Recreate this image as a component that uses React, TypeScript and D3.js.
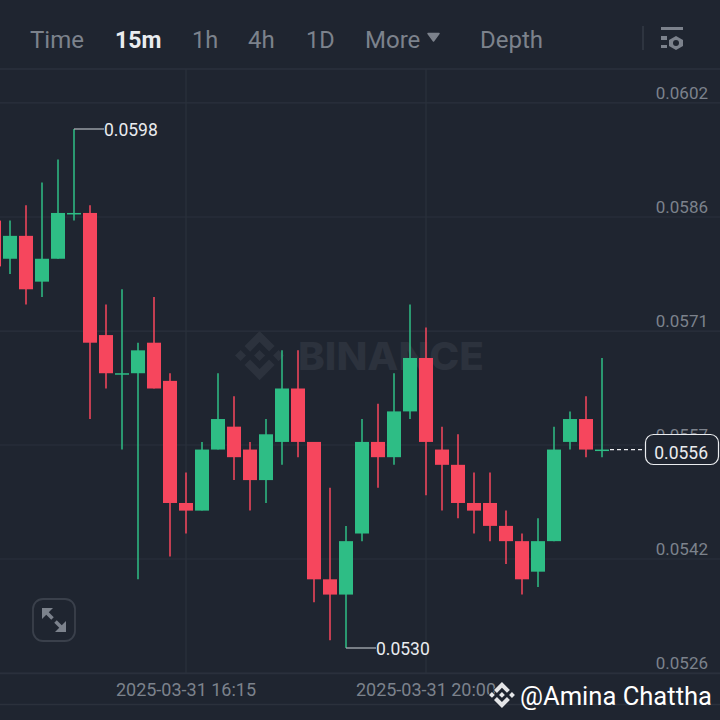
import React, { useEffect, useRef } from 'react';
import * as d3 from 'd3';

// candles are listed left to right, index -1 is the one cut by the left edge
const firstIndex = -1;
const opens = [0.0586, 0.0581, 0.0584, 0.0578, 0.0581, 0.0587, 0.0587, 0.0571, 0.0566, 0.0566, 0.057, 0.0565, 0.0549, 0.0548, 0.0556, 0.0559, 0.0556, 0.0552, 0.0557, 0.0564, 0.0557, 0.0539, 0.0537, 0.0545, 0.0557, 0.0555, 0.0561, 0.0568, 0.0556, 0.0554, 0.0549, 0.0549, 0.0546, 0.0544, 0.054, 0.0544, 0.0557, 0.056, 0.0556];
const closes = [0.058, 0.0584, 0.0577, 0.0581, 0.0587, 0.0587, 0.057, 0.0566, 0.0566, 0.0569, 0.0564, 0.0549, 0.0548, 0.0556, 0.056, 0.0555, 0.0552, 0.0558, 0.0564, 0.0557, 0.0539, 0.0537, 0.0544, 0.0557, 0.0555, 0.0561, 0.0568, 0.0557, 0.0554, 0.0549, 0.0548, 0.0546, 0.0544, 0.0539, 0.0544, 0.0556, 0.056, 0.0556, 0.0556];
const highs = [0.0586, 0.0586, 0.0588, 0.0591, 0.0594, 0.0598, 0.0588, 0.0575, 0.0577, 0.057, 0.0576, 0.0566, 0.0553, 0.0557, 0.0566, 0.0563, 0.0557, 0.056, 0.0569, 0.0569, 0.0557, 0.0551, 0.0546, 0.056, 0.0562, 0.0566, 0.0575, 0.0572, 0.0559, 0.0558, 0.0553, 0.0553, 0.0548, 0.0545, 0.0547, 0.0559, 0.0561, 0.0563, 0.0568];
const lows = [0.058, 0.0579, 0.0575, 0.0576, 0.0581, 0.0586, 0.056, 0.0564, 0.0556, 0.0539, 0.0564, 0.0542, 0.0545, 0.0548, 0.0556, 0.0552, 0.0548, 0.0549, 0.0554, 0.0555, 0.0536, 0.0531, 0.053, 0.0544, 0.0551, 0.0554, 0.056, 0.055, 0.0548, 0.0547, 0.0545, 0.0544, 0.0541, 0.0537, 0.0538, 0.0544, 0.0556, 0.0555, 0.0555];
// green or red is kept apart because a doji has open == close
const isUp = [false, true, false, true, true, true, false, false, true, true, false, false, false, true, true, false, false, true, true, false, false, false, true, true, false, true, true, false, false, false, false, false, false, false, true, true, true, false, true];

const gridPrices = [0.060141, 0.058647, 0.057153, 0.05566, 0.054166, 0.052672];
const priceLabels = ['0.0602', '0.0586', '0.0571', '0.0557', '0.0542', '0.0526'];
const timeIndexes = [11, 26];
const timeLabels = ['2025-03-31 16:15', '2025-03-31 20:00'];
const lastPrice = 0.0556;
const highMark = { index: 4, price: 0.0598, label: '0.0598' };
const lowMark = { index: 21, price: 0.053, label: '0.0530' };

const tabs = ['Time', '15m', '1h', '4h', '1D', 'More', 'Depth'];
const tabX = [30, 115, 192, 248, 306, 365, 480];

const BG = '#1f2530';
const GRID = '#2b313c';
const UP = '#2ebd85';
const DOWN = '#f6465d';
const MUTED = '#7c828c';
const LIGHT = '#eaecef';
const FONT = 'Roboto, sans-serif';
const LOGO = 'M16.624 13.9202l2.7175 2.7154-7.353 7.353-7.353-7.352 2.7175-2.7164 4.6355 4.6595 4.6356-4.6595zm4.6366-4.6366L24 12l-2.7154 2.7164L18.5682 12l2.6924-2.7164zm-9.272.001l2.7163 2.6914-2.7164 2.7174v-.001L9.2721 12l2.7164-2.7154zm-9.2722-.001L5.4088 12l-2.6914 2.6924L0 12l2.7164-2.7164zM11.9885.0115l7.353 7.329-2.7174 2.7154-4.6356-4.6356-4.6355 4.6595-2.7174-2.7154 7.353-7.353z';

export default function App() {
    const ref = useRef<SVGSVGElement>(null);

    useEffect(() => {
        const svg = d3.select(ref.current);
        svg.selectAll('*').remove();

        const x = d3.scaleLinear().domain([0, 37]).range([10, 602]);
        const y = d3.scaleLinear().domain([0.0598, 0.053]).range([129, 648]);
        const candles = opens.map((open, i) => ({
            i: i + firstIndex,
            open,
            close: closes[i],
            high: highs[i],
            low: lows[i],
            up: isUp[i],
        }));

        svg.append('rect').attr('width', 720).attr('height', 720).attr('fill', BG);

        // frame lines and grid
        svg.selectAll('.frame')
            .data([69, 673.5, 704.5])
            .enter()
            .append('line')
            .attr('x1', 0)
            .attr('x2', 720)
            .attr('y1', (d) => d)
            .attr('y2', (d) => d)
            .attr('stroke', GRID)
            .attr('stroke-width', 1.5);
        svg.selectAll('.hgrid')
            .data(gridPrices)
            .enter()
            .append('line')
            .attr('x1', 0)
            .attr('x2', 720)
            .attr('y1', (d) => y(d))
            .attr('y2', (d) => y(d))
            .attr('stroke', GRID)
            .attr('stroke-width', 1.2);
        svg.selectAll('.vgrid')
            .data(timeIndexes)
            .enter()
            .append('line')
            .attr('x1', (d) => x(d))
            .attr('x2', (d) => x(d))
            .attr('y1', 69)
            .attr('y2', 673)
            .attr('stroke', GRID)
            .attr('stroke-width', 1.2);

        // watermark
        const mark = svg.append('g').attr('fill', '#2c323d');
        mark.append('path').attr('d', LOGO).attr('transform', 'translate(235,331) scale(2.05)');
        mark.append('text')
            .attr('x', 298)
            .attr('y', 370)
            .attr('font-family', 'Inter, sans-serif')
            .attr('font-weight', 800)
            .attr('font-size', 38)
            .attr('textLength', 186)
            .attr('lengthAdjust', 'spacingAndGlyphs')
            .text('BINANCE');

        // header
        svg.selectAll('.tab')
            .data(tabs)
            .enter()
            .append('text')
            .attr('x', (d, i) => tabX[i])
            .attr('y', 48)
            .attr('font-family', FONT)
            .attr('font-size', (d) => (d === '15m' ? 23 : d === '1h' || d === '1D' ? 23.5 : 24))
            .attr('font-weight', (d) => (d === '15m' ? 700 : 400))
            .attr('fill', (d) => (d === '15m' ? LIGHT : MUTED))
            .text((d) => d);
        svg.append('path')
            .attr('d', 'M428 33.5H439L433.5 41Z')
            .attr('fill', MUTED)
            .attr('stroke', MUTED)
            .attr('stroke-width', 1.5)
            .attr('stroke-linejoin', 'round');
        svg.append('line').attr('x1', 643).attr('x2', 643).attr('y1', 26).attr('y2', 50).attr('stroke', '#3a404b').attr('stroke-width', 1.2);
        const gear = svg.append('g').attr('fill', MUTED);
        gear.append('rect').attr('x', 661).attr('y', 27).attr('width', 22).attr('height', 3);
        gear.append('rect').attr('x', 661).attr('y', 36).attr('width', 6).attr('height', 4);
        gear.append('rect').attr('x', 661).attr('y', 45).attr('width', 6).attr('height', 3);
        gear.append('path').attr('d', 'M676 36L683 40V46L676 50L669 46V40Z');
        gear.append('circle').attr('cx', 676).attr('cy', 43).attr('r', 3).attr('fill', BG);

        // price labels
        svg.selectAll('.price')
            .data(gridPrices)
            .enter()
            .append('text')
            .attr('x', 708)
            .attr('y', (d) => y(d) - 4)
            .attr('text-anchor', 'end')
            .attr('font-family', FONT)
            .attr('font-size', 17)
            .attr('fill', MUTED)
            .text((d, i) => priceLabels[i]);

        // time labels
        svg.selectAll('.time')
            .data(timeIndexes)
            .enter()
            .append('text')
            .attr('x', (d) => x(d))
            .attr('y', 696)
            .attr('text-anchor', 'middle')
            .attr('font-family', FONT)
            .attr('font-size', 18)
            .attr('fill', MUTED)
            .text((d, i) => timeLabels[i]);

        // candles
        const color = (d) => (d.up ? UP : DOWN);
        const g = svg.selectAll('.candle').data(candles).enter().append('g');
        g.append('line')
            .attr('x1', (d) => x(d.i))
            .attr('x2', (d) => x(d.i))
            .attr('y1', (d) => y(d.high))
            .attr('y2', (d) => y(d.low))
            .attr('stroke', color)
            .attr('stroke-opacity', 0.8)
            .attr('stroke-width', 1.9);
        g.append('rect')
            .attr('x', (d) => x(d.i) - 7)
            .attr('y', (d) => y(Math.max(d.open, d.close)))
            .attr('width', 14)
            .attr('height', (d) => Math.max(1.5, Math.abs(y(d.open) - y(d.close))))
            .attr('fill', color);

        // high and low callouts
        [highMark, lowMark].forEach((m) => {
            const px = x(m.index);
            const py = y(m.price);
            svg.append('line').attr('x1', px).attr('x2', px + 30).attr('y1', py).attr('y2', py).attr('stroke', '#a0a5ad').attr('stroke-width', 1.4);
            svg.append('text')
                .attr('x', px + 30)
                .attr('y', py + 7)
                .attr('font-family', FONT)
                .attr('font-size', 17.5)
                .attr('fill', LIGHT)
                .text(m.label);
        });

        // last price
        const lastY = y(lastPrice);
        svg.append('line')
            .attr('x1', x(37) + 8)
            .attr('x2', 645)
            .attr('y1', lastY)
            .attr('y2', lastY)
            .attr('stroke', LIGHT)
            .attr('stroke-width', 1.2)
            .attr('stroke-dasharray', '4 3');
        svg.append('rect')
            .attr('x', 645.5)
            .attr('y', 434.5)
            .attr('width', 73)
            .attr('height', 30)
            .attr('rx', 8)
            .attr('fill', BG)
            .attr('stroke', LIGHT)
            .attr('stroke-width', 1.2);
        svg.append('text')
            .attr('x', 708)
            .attr('y', 459)
            .attr('text-anchor', 'end')
            .attr('font-family', FONT)
            .attr('font-size', 17.5)
            .attr('fill', LIGHT)
            .text(lastPrice.toFixed(4));

        // expand button
        svg.append('rect')
            .attr('x', 33)
            .attr('y', 599)
            .attr('width', 42)
            .attr('height', 42)
            .attr('rx', 10)
            .attr('fill', 'none')
            .attr('stroke', '#3a404b')
            .attr('stroke-width', 1.8);
        const arrows = svg.append('g').attr('fill', MUTED).attr('stroke', MUTED);
        arrows.append('path').attr('d', 'M42 608H53L42 619Z').attr('stroke', 'none');
        arrows.append('path').attr('d', 'M66 632H55L66 621Z').attr('stroke', 'none');
        arrows.append('line').attr('x1', 46).attr('y1', 612).attr('x2', 52.5).attr('y2', 618.5).attr('stroke-width', 3.5);
        arrows.append('line').attr('x1', 62).attr('y1', 628).attr('x2', 55.5).attr('y2', 621.5).attr('stroke-width', 3.5);

        // overlay signature
        svg.append('path')
            .attr('d', LOGO)
            .attr('transform', 'translate(489,682) scale(1.08)')
            .attr('fill', '#e4e5e7')
            .attr('stroke', BG)
            .attr('stroke-width', 1.5)
            .attr('paint-order', 'stroke');
        svg.append('text')
            .attr('x', 520)
            .attr('y', 705)
            .attr('font-family', FONT)
            .attr('font-size', 25)
            .attr('fill', '#fff')
            .attr('textLength', 192)
            .attr('lengthAdjust', 'spacingAndGlyphs')
            .text('@Amina Chattha');
    }, []);

    return <svg ref={ref} width={720} height={720} style={{ position: 'absolute', left: 0, top: 0, display: 'block' }} />;
}
